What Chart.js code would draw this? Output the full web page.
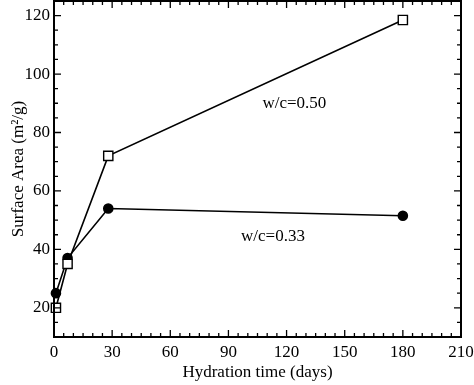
<!DOCTYPE html>
<html>
<head>
<meta charset="utf-8">
<script src="https://cdn.jsdelivr.net/npm/chart.js@4"></script>
<style>
  html, body { margin: 0; padding: 0; background: #fff; }
  #wrap { width: 474px; height: 385px; }
</style>
</head>
<body>
<div id="wrap"><canvas id="c" width="474" height="385"></canvas></div>
<script>
// datos
const days = [1, 7, 28, 180];
const wc050 = [20, 35, 72, 118.5];
const wc033 = [25, 37, 54, 51.5];

const xMajorTicks = [0, 30, 60, 90, 120, 150, 180, 210];
const yMajorTicks = [20, 40, 60, 80, 100, 120];

// etiquetas dentro del grafico (posicion en unidades de datos)
const notes = [
  { text: "w/c=0.50", x: 124, y: 90 },
  { text: "w/c=0.33", x: 113, y: 44.5 },
];

const serif = "'Liberation Serif', 'Times New Roman', serif";

// ticks hacia dentro + marco completo
const frameTicksPlugin = {
  id: "frameTicks",
  afterDraw(c) {
    const { ctx, chartArea: a } = c;
    const xs = c.scales.x, ys = c.scales.y;
    ctx.save();
    ctx.strokeStyle = "#000";
    ctx.lineWidth = 1.3;
    ctx.beginPath();
    xs.ticks.forEach((t) => {
      const px = xs.getPixelForValue(t.value);
      const len = xMajorTicks.includes(t.value) ? 7 : 4;
      ctx.moveTo(px, a.bottom); ctx.lineTo(px, a.bottom - len);
      ctx.moveTo(px, a.top); ctx.lineTo(px, a.top + len);
    });
    ys.ticks.forEach((t) => {
      const py = ys.getPixelForValue(t.value);
      const len = yMajorTicks.includes(t.value) ? 7 : 4;
      ctx.moveTo(a.left, py); ctx.lineTo(a.left + len, py);
      ctx.moveTo(a.right, py); ctx.lineTo(a.right - len, py);
    });
    ctx.stroke();
    ctx.lineWidth = 2;
    ctx.strokeRect(a.left, a.top, a.right - a.left, a.bottom - a.top);

    ctx.fillStyle = "#000";
    ctx.font = `17px ${serif}`;
    ctx.textAlign = "center";
    ctx.textBaseline = "middle";
    notes.forEach((n) => {
      ctx.fillText(n.text, xs.getPixelForValue(n.x), ys.getPixelForValue(n.y));
    });
    ctx.restore();
  },
};

new Chart(document.getElementById("c").getContext("2d"), {
  type: "line",
  data: {
    labels: days,
    datasets: [
      {
        label: "w/c=0.50",
        data: days.map((d, i) => ({ x: d, y: wc050[i] })),
        borderColor: "#000",
        borderWidth: 1.6,
        pointStyle: "rect",
        pointRadius: 6.5,
        pointBorderWidth: 1.4,
        pointBackgroundColor: "#fff",
        pointBorderColor: "#000",
        tension: 0,
        clip: false,
      },
      {
        label: "w/c=0.33",
        data: days.map((d, i) => ({ x: d, y: wc033[i] })),
        borderColor: "#000",
        borderWidth: 1.6,
        pointStyle: "circle",
        pointRadius: 4.5,
        pointBackgroundColor: "#000",
        pointBorderColor: "#000",
        tension: 0,
        clip: false,
      },
    ],
  },
  options: {
    responsive: false,
    animation: false,
    layout: { autoPadding: false, padding: { top: 1, right: 13, left: 0, bottom: 0 } },
    plugins: { legend: { display: false }, tooltip: { enabled: false } },
    scales: {
      x: {
        type: "linear",
        min: 0,
        max: 210,
        afterFit: (s) => { s.height = 48; s.paddingLeft = 0; s.paddingRight = 0; },
        grid: { display: false, drawTicks: false },
        border: { display: false },
        ticks: {
          stepSize: 5,
          autoSkip: false,
          maxRotation: 0,
          padding: 5,
          color: "#000",
          font: { family: serif, size: 17 },
          callback: (v) => (xMajorTicks.includes(v) ? String(v) : ""),
        },
        title: {
          display: true,
          text: "Hydration time (days)",
          color: "#000",
          font: { family: serif, size: 17 },
          padding: { top: 0, bottom: 2 },
        },
      },
      y: {
        min: 10,
        max: 125,
        afterFit: (s) => { s.width = 54; s.paddingTop = 0; s.paddingBottom = 0; },
        grid: { display: false, drawTicks: false },
        border: { display: false },
        ticks: {
          stepSize: 5,
          autoSkip: false,
          padding: 4,
          color: "#000",
          font: { family: serif, size: 17 },
          callback: (v) => (yMajorTicks.includes(v) ? String(v) : ""),
        },
        title: {
          display: true,
          text: "Surface Area (m²/g)",
          color: "#000",
          font: { family: serif, size: 17 },
          padding: { top: 8, bottom: 0 },
        },
      },
    },
  },
  plugins: [frameTicksPlugin],
});
</script>
</body>
</html>
